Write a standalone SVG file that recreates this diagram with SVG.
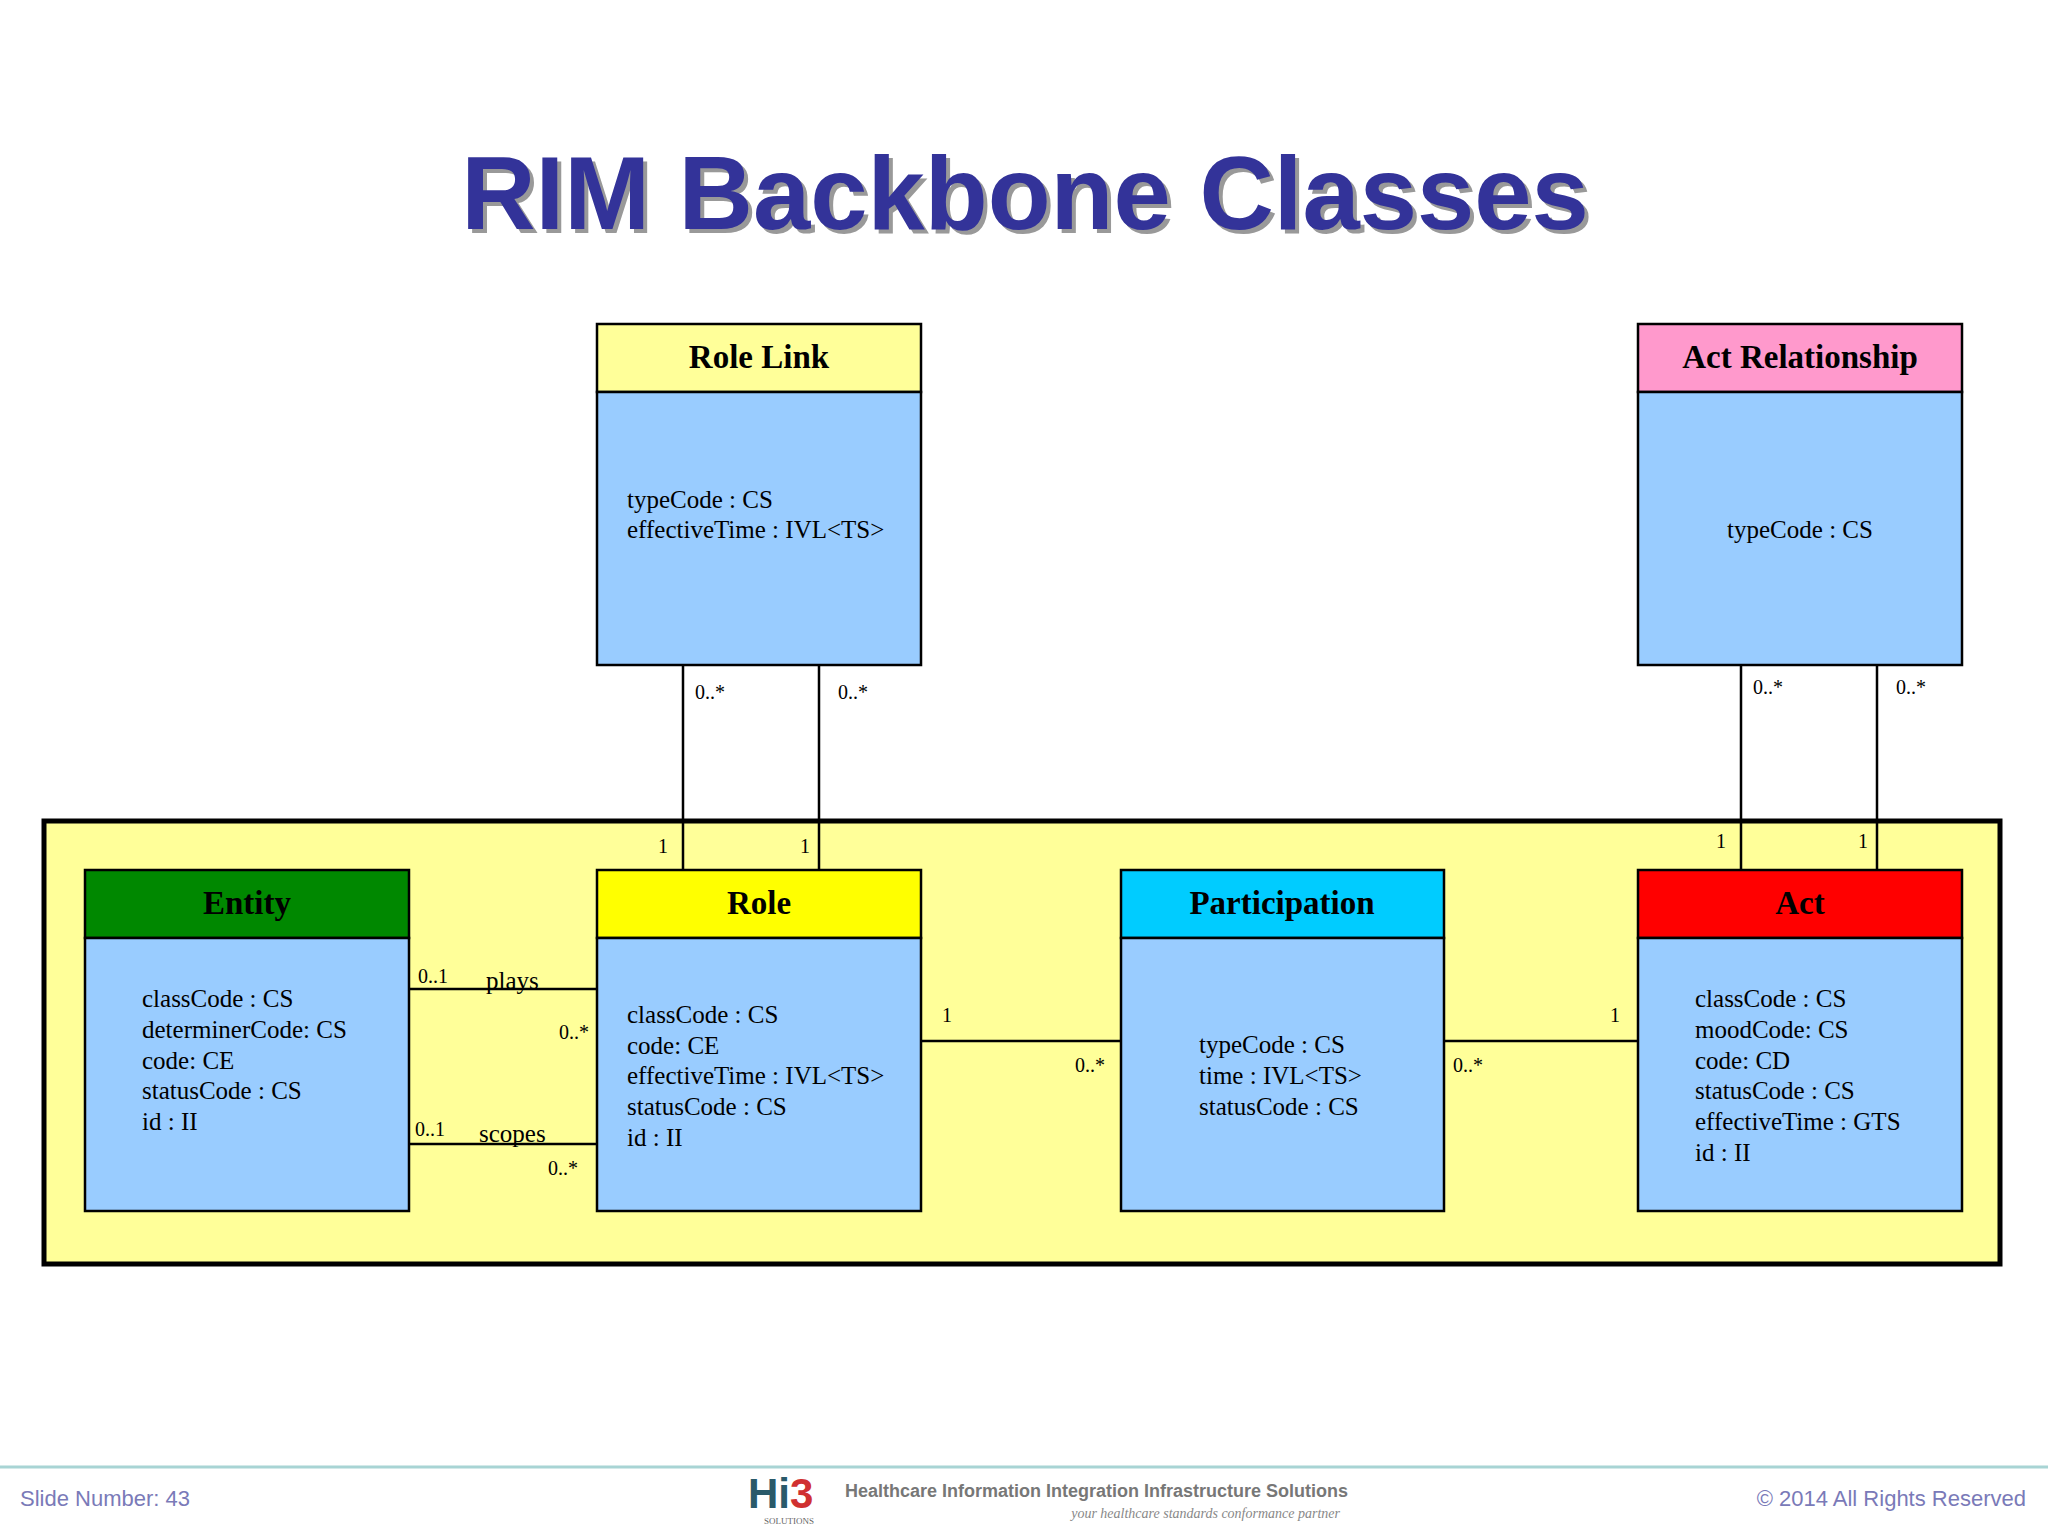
<svg xmlns="http://www.w3.org/2000/svg" width="2048" height="1536" viewBox="0 0 2048 1536">
<style>
.box{stroke:#000;stroke-width:2.5}
.body{fill:#99CCFF}
.hd{font-family:"Liberation Serif",serif;font-weight:bold;font-size:33px;text-anchor:middle}
.at{font-family:"Liberation Serif",serif;font-size:25px}
.lb{font-family:"Liberation Serif",serif;font-size:20px}
.ln{stroke:#000;stroke-width:2.5;fill:none}
.ft{font-family:"Liberation Sans",sans-serif;font-size:22px;fill:#7a7ab8}
</style>
<rect width="2048" height="1536" fill="#fff"/>
<g id="title">
<text x="1029" y="233" font-family="Liberation Sans,sans-serif" font-weight="bold" font-size="103" text-anchor="middle" fill="#999">RIM Backbone Classes</text>
<text x="1025" y="229" font-family="Liberation Sans,sans-serif" font-weight="bold" font-size="103" text-anchor="middle" fill="#333399">RIM Backbone Classes</text>
</g>
<rect x="44" y="821" width="1956" height="443" fill="#FFFF99" stroke="#000" stroke-width="5"/>
<g id="connectors">
<path class="ln" d="M683 665V870M819 665V870M1741 665V870M1877 665V870M409 989H597M409 1144H597M921 1041H1121M1444 1041H1638"/>
<text class="lb" x="695" y="699">0..*</text><text class="lb" x="838" y="699">0..*</text>
<text class="lb" x="658" y="853">1</text><text class="lb" x="800" y="853">1</text>
<text class="lb" x="1753" y="694">0..*</text><text class="lb" x="1896" y="694">0..*</text>
<text class="lb" x="1716" y="848">1</text><text class="lb" x="1858" y="848">1</text>
<text class="lb" x="418" y="983">0..1</text><text class="at" x="486" y="989">plays</text><text class="lb" x="559" y="1039">0..*</text>
<text class="lb" x="415" y="1136">0..1</text><text class="at" x="479" y="1142">scopes</text><text class="lb" x="548" y="1175">0..*</text>
<text class="lb" x="942" y="1022">1</text><text class="lb" x="1075" y="1072">0..*</text>
<text class="lb" x="1610" y="1022">1</text><text class="lb" x="1453" y="1072">0..*</text>
</g>
<g id="rolelink">
<rect class="box" x="597" y="324" width="324" height="68" fill="#FFFF99"/>
<rect class="box body" x="597" y="392" width="324" height="273"/>
<text class="hd" x="759" y="368">Role Link</text>
<text class="at" x="627" y="508">typeCode : CS</text>
<text class="at" x="627" y="538">effectiveTime : IVL&lt;TS&gt;</text>
</g>
<g id="actrel">
<rect class="box" x="1638" y="324" width="324" height="68" fill="#FF99CC"/>
<rect class="box body" x="1638" y="392" width="324" height="273"/>
<text class="hd" x="1800" y="368">Act Relationship</text>
<text class="at" x="1800" y="538" text-anchor="middle">typeCode : CS</text>
</g>
<g id="entity">
<rect class="box" x="85" y="870" width="324" height="68" fill="#008800"/>
<rect class="box body" x="85" y="938" width="324" height="273"/>
<text class="hd" x="247" y="914">Entity</text>
<text class="at" x="142" y="1007">classCode : CS</text>
<text class="at" x="142" y="1038">determinerCode: CS</text>
<text class="at" x="142" y="1069">code: CE</text>
<text class="at" x="142" y="1099">statusCode : CS</text>
<text class="at" x="142" y="1130">id : II</text>
</g>
<g id="role">
<rect class="box" x="597" y="870" width="324" height="68" fill="#FFFF00"/>
<rect class="box body" x="597" y="938" width="324" height="273"/>
<text class="hd" x="759" y="914">Role</text>
<text class="at" x="627" y="1023">classCode : CS</text>
<text class="at" x="627" y="1054">code: CE</text>
<text class="at" x="627" y="1084">effectiveTime : IVL&lt;TS&gt;</text>
<text class="at" x="627" y="1115">statusCode : CS</text>
<text class="at" x="627" y="1146">id : II</text>
</g>
<g id="participation">
<rect class="box" x="1121" y="870" width="323" height="68" fill="#00CCFF"/>
<rect class="box body" x="1121" y="938" width="323" height="273"/>
<text class="hd" x="1282" y="914">Participation</text>
<text class="at" x="1199" y="1053">typeCode : CS</text>
<text class="at" x="1199" y="1084">time : IVL&lt;TS&gt;</text>
<text class="at" x="1199" y="1115">statusCode : CS</text>
</g>
<g id="act">
<rect class="box" x="1638" y="870" width="324" height="68" fill="#FF0000"/>
<rect class="box body" x="1638" y="938" width="324" height="273"/>
<text class="hd" x="1800" y="914">Act</text>
<text class="at" x="1695" y="1007">classCode : CS</text>
<text class="at" x="1695" y="1038">moodCode: CS</text>
<text class="at" x="1695" y="1069">code: CD</text>
<text class="at" x="1695" y="1099">statusCode : CS</text>
<text class="at" x="1695" y="1130">effectiveTime : GTS</text>
<text class="at" x="1695" y="1161">id : II</text>
</g>
<g id="footer">
<line x1="0" y1="1467" x2="2048" y2="1467" stroke="#a8d4d4" stroke-width="3"/>
<text class="ft" x="20" y="1506">Slide Number: 43</text>
<text class="ft" x="2026" y="1506" text-anchor="end">© 2014 All Rights Reserved</text>
<text x="748" y="1508" font-family="Liberation Sans,sans-serif" font-weight="bold" font-size="42" fill="#2a5a6a">Hi<tspan fill="#d03030">3</tspan></text>
<text x="764" y="1524" font-family="Liberation Serif,serif" font-size="9" fill="#666">SOLUTIONS</text>
<text x="845" y="1497" font-family="Liberation Sans,sans-serif" font-weight="bold" font-size="18" fill="#777">Healthcare Information Integration Infrastructure Solutions</text>
<text x="1340" y="1518" font-family="Liberation Serif,serif" font-style="italic" font-size="14" fill="#888" text-anchor="end">your healthcare standards conformance partner</text>
</g>
</svg>
